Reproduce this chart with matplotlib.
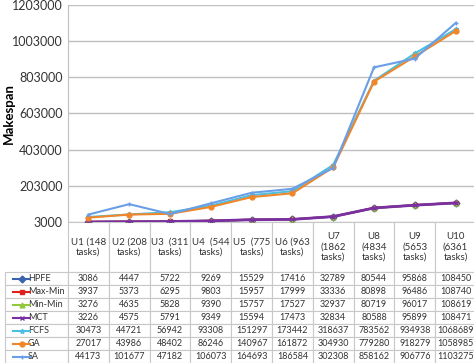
import matplotlib
matplotlib.use("Agg")
import matplotlib.pyplot as plt
from matplotlib.lines import Line2D

plt.rcParams['font.family'] = ['Lato', 'DejaVu Sans']

categories = ["U1 (148\ntasks)", "U2 (208\ntasks)", "U3  (311\ntasks)", "U4  (544\ntasks)",
              "U5  (775\ntasks)", "U6 (963\ntasks)", "U7\n(1862\ntasks)", "U8\n(4834\ntasks)",
              "U9\n(5653\ntasks)", "U10\n(6361\ntasks)"]
names = ["HPFE", "Max-Min", "Min-Min", "MCT", "FCFS", "GA", "SA"]
hpfe = [3086, 4447, 5722, 9269, 15529, 17416, 32789, 80544, 95868, 108450]
maxmin = [3937, 5373, 6295, 9803, 15957, 17999, 33336, 80898, 96486, 108740]
minmin = [3276, 4635, 5828, 9390, 15757, 17527, 32937, 80719, 96017, 108619]
mct = [3226, 4575, 5791, 9349, 15594, 17473, 32834, 80588, 95899, 108471]
fcfs = [30473, 44721, 56942, 93308, 151297, 173442, 318637, 783562, 934938, 1068689]
ga = [27017, 43986, 48402, 86246, 140967, 161872, 304930, 779280, 918279, 1058985]
sa = [44173, 101677, 47182, 106073, 164693, 186584, 302308, 858162, 906776, 1103275]
series = [hpfe, maxmin, minmin, mct, fcfs, ga, sa]
yticks = [3000, 203000, 403000, 603000, 803000, 1003000, 1203000]

colors = ["#3a64b0", "#e0201b", "#92c83e", "#7a2fa3", "#4bbfe0", "#f0862a", "#6a9ee6"]
markers = ["D", "s", "^", "x", "*", "o", "+"]
widths = [1.5, 1.5, 1.5, 2.0, 1.5, 1.5, 1.5]

W, H = 474, 363
fig = plt.figure(figsize=(W / 100, H / 100), dpi=100)
ax_l, ax_r, ax_t, ax_b = 68, 476, 5, 222
ax = fig.add_axes([ax_l / W, 1 - ax_b / H, (ax_r - ax_l) / W, (ax_b - ax_t) / H])

x = list(range(len(categories)))
for s, c, m, lw in zip(series, colors, markers, widths):
    ax.plot(x, s, color=c, marker=m, markersize=3.5, linewidth=lw,
            markeredgewidth=1, zorder=3)

ax.set_xlim(-0.5, len(categories) - 0.5)
ax.set_ylim(3000, 1203000)
ax.set_yticks(yticks)
ax.set_yticklabels([str(v) for v in yticks], fontsize=9, color='#333333')
ax.tick_params(axis='y', length=0, pad=4)
ax.set_xticks([])
ax.grid(axis='y', color='#bfbfbf', linewidth=1)
ax.set_axisbelow(True)
for sp in ['top', 'right', 'bottom']:
    ax.spines[sp].set_visible(False)
ax.spines['left'].set_color('#bfbfbf')

ax_h = ax_b - ax_t
ax_w = ax_r - ax_l
ax.set_ylabel("Makespan", fontsize=9.5, fontweight='bold')
ax.yaxis.set_label_coords((15 - ax_l) / ax_w, 0.5)

cell_text = [[str(v) for v in s] for s in series]
tbl = ax.table(cellText=cell_text, rowLabels=names, colLabels=categories,
               cellLoc='center', rowLoc='left',
               bbox=[0, -(50 + 13 * 7) / ax_h, 1, (50 + 13 * 7) / ax_h])
tbl.auto_set_font_size(False)
tbl.set_fontsize(6.5)

lab_w = (ax_l - 12) / ax_w
col_w = 1.0 / len(categories)
head_h = 50 / ax_h
row_h = 13 / ax_h
for (r, c), cell in tbl.get_celld().items():
    cell.set_edgecolor('#c8c8c8')
    cell.set_linewidth(0.8)
    cell.set_width(lab_w if c == -1 else col_w)
    cell.set_height(head_h if r == 0 else row_h)
    cell.get_text().set_color('#333333')
    if r == 0:
        cell.get_text().set_fontsize(7)
    if c == -1:
        cell.PAD = 0.36

# legend keys in row label cells
for i, (c, m) in enumerate(zip(colors, markers)):
    yc = -(50 + 13 * i + 6.5) / ax_h
    x0 = -lab_w + 1.5 / ax_w
    x1 = -lab_w + 18 / ax_w
    ax.add_line(Line2D([x0, x1], [yc, yc], transform=ax.transAxes, color=c,
                       linewidth=1.5, clip_on=False))
    ax.add_line(Line2D([(x0 + x1) / 2], [yc], transform=ax.transAxes, color=c,
                       marker=m, markersize=3.5, clip_on=False))

fig.savefig("out.png", dpi=100)
